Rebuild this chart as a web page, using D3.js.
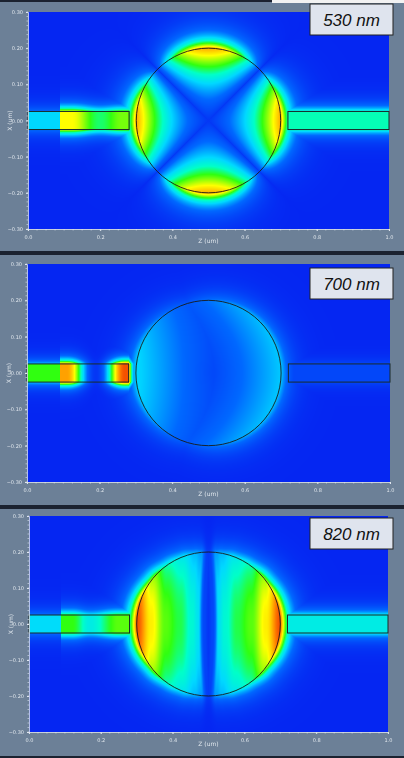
<!DOCTYPE html>
<html><head><meta charset="utf-8">
<script src="https://cdn.jsdelivr.net/npm/d3@7"></script>
<style>body{margin:0;background:#6c8097;}#wrap{position:relative;width:404px;height:758px;overflow:hidden}canvas,svg{position:absolute;left:0;top:0}</style>
</head><body><div id="wrap"></div>
<script>
const wavelengths = ["530 nm","700 nm","820 nm"];
const zTicks = [0.0,0.2,0.4,0.6,0.8,1.0];
const xTicks = [0.30,0.20,0.10,0.00,-0.10,-0.20,-0.30];
// geometry (um)
const disk = {z:0.5, x:0, r:0.2};
const guideLeft = [0.0, 0.28], guideRight = [0.72, 1.0], guideHalf = 0.025, sourceZ = 0.09;
// per-panel field levels
const leftPre = [0.35, 0.55, 0.36];
const leftPeaks = [[[0.12,0.7],[0.2,0.5],[0.26,0.6]], [[0.11,0.82],[0.19,0.05],[0.27,0.92]], [[0.12,0.55],[0.17,0.4],[0.25,0.58]]];
const rightLevel = [0.46, 0.1, 0.4];
const diskPeak = [0.76, 0.28, 0.92];
const stripe820 = [[0,0.05],[0.012,0.1],[0.03,0.38],[0.045,0.43],[0.08,0.52],[0.12,0.58],[0.16,0.72],[0.2,0.92]];

const W=404,H=758;
const panels=[{x0:28,x1:389,y0:12,y1:229},{x0:27,x1:390,y0:264,y1:482},{x0:29,x1:388,y0:516,y1:732}];
const cmap=d3.scaleLinear().domain([0,0.2,0.35,0.45,0.55,0.7,0.85,1])
 .range(["#0526f2","#0068ff","#00d8ff","#00ffc8","#30ff10","#ffff00","#ff8a00","#e81000"]).clamp(true);

function interpPeaks(pk,z){
  if(z<=pk[0][0]) return pk[0][1];
  for(let i=0;i<pk.length-1;i++){ if(z<=pk[i+1][0]){const t=(z-pk[i][0])/(pk[i+1][0]-pk[i][0]);const s=(1-Math.cos(Math.PI*t))/2;return pk[i][1]*(1-s)+pk[i+1][1]*s;} }
  return pk[pk.length-1][1];
}
function diskField(p,z,x){
  const dz=z-disk.z, dx=x-disk.x, rho=Math.hypot(dz,dx), th=Math.atan2(dx,dz), u=Math.min(rho/disk.r,1);
  if(p===0){const c=Math.cos(2*th);return 0.05+diskPeak[0]*Math.pow(u,1.0)*Math.pow(c*c,0.35)*(0.55+0.45*u);}
  if(p===1){const d=Math.abs(dz-0.015+0.08*dx*dx/0.04);return 0.1+diskPeak[1]*Math.min(d/0.2,1)*0.7+0.05*u;}
  const d=Math.min(Math.abs(dz)+0.05*dx*dx/0.2,0.2);
  return interpPeaks(stripe820,d)*(1-0.3*(dx/disk.r)**2);
}
function field(p,z,x){
  const dz=z-disk.z, dx=x-disk.x, rho=Math.hypot(dz,dx);
  let I=0;
  if(rho<=disk.r) I=diskField(p,z,x);
  else { const bz=disk.z+dz/rho*disk.r,bx=dx/rho*disk.r; I=diskField(p,bz,bx)*Math.exp(-(rho-disk.r)/(p===0?0.036:0.03)); }
  const ax=Math.abs(x), prof = ax<=guideHalf?1:Math.exp(-(ax-guideHalf)/(p===1?0.016:0.02));
  let gl;
  if(z<sourceZ) gl=leftPre[p]; else gl=interpPeaks(leftPeaks[p],z);
  if(z<=guideLeft[1]) I=Math.max(I,gl*prof*(z<sourceZ&&ax>guideHalf?0.6:1));
  else I=Math.max(I,interpPeaks(leftPeaks[p],guideLeft[1])*prof*Math.exp(-(z-guideLeft[1])/0.012));
  if(z>=guideRight[0]) I=Math.max(I,rightLevel[p]*prof);
  else I=Math.max(I,rightLevel[p]*prof*Math.exp(-(guideRight[0]-z)/0.012));
  return I;
}
const wrap=d3.select("#wrap");
const canvas=wrap.append("canvas").attr("width",W).attr("height",H).node();
const ctx=canvas.getContext("2d");
ctx.fillStyle="#6c8097";ctx.fillRect(0,0,W,H);
const svg=wrap.append("svg").attr("width",W).attr("height",H);
[253,507].forEach(y=>svg.append("rect").attr("x",0).attr("y",y-2).attr("width",W).attr("height",4).attr("fill","#1b2230"));
svg.append("rect").attr("x",0).attr("y",0).attr("width",W).attr("height",2).attr("fill","#1b2230");
svg.append("rect").attr("x",272).attr("y",0).attr("width",132).attr("height",3).attr("fill","#f2f2f2");
svg.append("rect").attr("x",0).attr("y",756).attr("width",W).attr("height",2).attr("fill","#1b2230");
const boxY=[4,268,518];

panels.forEach((pp,p)=>{
  const xs=d3.scaleLinear().domain([0,1]).range([pp.x0,pp.x1]);
  const ys=d3.scaleLinear().domain([-0.3,0.3]).range([pp.y1,pp.y0]);
  const w=pp.x1-pp.x0,h=pp.y1-pp.y0;
  const img=ctx.createImageData(w,h);
  for(let j=0;j<h;j++)for(let i=0;i<w;i++){
    const c=d3.rgb(cmap(field(p,xs.invert(pp.x0+i+0.5),ys.invert(pp.y0+j+0.5))));
    const k=(j*w+i)*4;img.data[k]=c.r;img.data[k+1]=c.g;img.data[k+2]=c.b;img.data[k+3]=255;}
  ctx.putImageData(img,pp.x0,pp.y0);
  const g=svg.append("g");
  g.append("ellipse").attr("cx",xs(disk.z)).attr("cy",ys(disk.x)).attr("rx",xs(disk.r)-xs(0)).attr("ry",ys(0)-ys(disk.r))
   .attr("fill","none").attr("stroke","#1a1a1a").attr("stroke-width",0.9);
  [guideLeft,guideRight].forEach(gd=>g.append("rect").attr("x",xs(gd[0])).attr("y",ys(guideHalf)).attr("width",xs(gd[1])-xs(gd[0])).attr("height",ys(-guideHalf)-ys(guideHalf))
   .attr("fill","none").attr("stroke","#1a2a2a").attr("stroke-width",1));
  const ax=g.append("g").attr("transform",`translate(0,${pp.y1})`).call(d3.axisBottom(xs).tickValues(zTicks).tickFormat(d3.format(".1f")).tickSize(2));
  const ay=g.append("g").attr("transform",`translate(${pp.x0},0)`).call(d3.axisLeft(ys).tickValues(xTicks).tickFormat(d3.format(".2f")).tickSize(2));
  [ax,ay].forEach(a=>{a.select(".domain").attr("stroke","#e0e6ee").attr("stroke-width",0.8);a.selectAll("line").attr("stroke","#e0e6ee");
    a.selectAll("text").attr("fill","#dfe5ec").attr("font-size",5).attr("font-family","DejaVu Sans");});
  ax.selectAll("text").attr("dy","0.9em");
  g.selectAll(null).data(d3.range(0,1.0001,0.025)).join("line").attr("x1",d=>xs(d)).attr("x2",d=>xs(d)).attr("y1",pp.y1).attr("y2",pp.y1+1.5).attr("stroke","#e0e6ee").attr("stroke-width",0.6);
  g.selectAll(null).data(d3.range(-0.3,0.3001,0.0125)).join("line").attr("y1",d=>ys(d)).attr("y2",d=>ys(d)).attr("x1",pp.x0).attr("x2",pp.x0-1.5).attr("stroke","#e0e6ee").attr("stroke-width",0.6);
  g.append("text").attr("x",xs(0.5)).attr("y",pp.y1+14).attr("text-anchor","middle").attr("font-size",6).attr("fill","#dfe5ec").attr("font-family","DejaVu Sans").text("Z (um)");
  g.append("text").attr("transform",`translate(${pp.x0-16},${ys(0)}) rotate(-90)`).attr("text-anchor","middle").attr("font-size",6).attr("fill","#dfe5ec").attr("font-family","DejaVu Sans").text("X (um)");
  g.append("rect").attr("x",310).attr("y",boxY[p]).attr("width",83).attr("height",31).attr("fill","#dfe4ee").attr("stroke","#222").attr("stroke-width",1);
  g.append("text").attr("x",351.5).attr("y",boxY[p]+22).attr("text-anchor","middle").attr("font-size",17).attr("font-style","italic").attr("font-family","Liberation Sans").attr("fill","#111").text(wavelengths[p]);
});
</script></body></html>
